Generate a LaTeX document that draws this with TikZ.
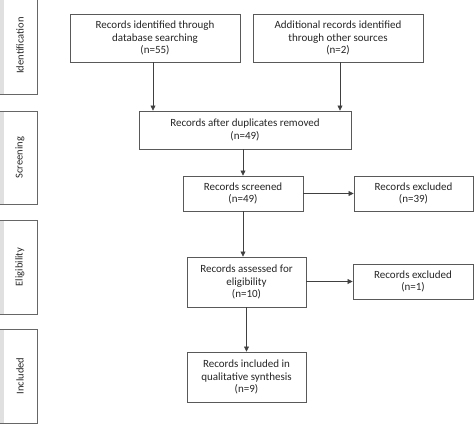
\documentclass[tikz,border=0pt]{standalone}
\usepackage{fontspec}
\setmainfont{Carlito}
\usetikzlibrary{arrows.meta}
\begin{document}
\begin{tikzpicture}[x=1pt,y=-1pt,
  box/.style={draw=black!65,line width=0.9pt,fill=white,align=center,text=black!85,font=\fontsize{11}{12.8}\selectfont,inner sep=0pt},
  side/.style={draw=black!60,line width=0.9pt,fill=white},
  sidetxt/.style={rotate=90,text=black!85,font=\fontsize{10.5}{12}\selectfont},
  arr/.style={draw=black!75,line width=0.7pt,-{Triangle[length=5pt,width=5pt]}}]
\useasboundingbox (0,0) rectangle (474,424);
% side boxes
\foreach \t/\b/\n/\lab in {-3/94/id/Identification,111/204/sc/Screening,220/314/el/Eligibility,329/423/in/Included}{
  \fill[black!12] (-3,\t) rectangle (4,\b);
  \draw[side,fill=none] (-3,\t) rectangle (37,\b);
  \node[sidetxt] (\n) at (20,{(\t+\b)/2}) {\lab};
}
% main boxes
\node[box,minimum width=170pt,minimum height=48pt] (A) at (155,38) {Records identified through\\database searching\\(n=55)};
\node[box,minimum width=170pt,minimum height=48pt] (B) at (338,38) {Additional records identified\\through other sources\\(n=2)};
\node[box,minimum width=212pt,minimum height=38pt] (C) at (245,130) {Records after duplicates removed\\(n=49)};
\node[box,minimum width=120pt,minimum height=35pt] (D) at (243,193.5) {Records screened\\(n=49)};
\node[box,minimum width=119pt,minimum height=35pt] (E) at (413.5,193.5) {Records excluded\\(n=39)};
\node[box,minimum width=119pt,minimum height=50pt] (F) at (246.5,282) {Records assessed for\\eligibility\\(n=10)};
\node[box,minimum width=120pt,minimum height=35pt] (G) at (413,281.5) {Records excluded\\(n=1)};
\node[box,minimum width=119pt,minimum height=50pt] (H) at (246.5,377) {Records included in\\qualitative synthesis\\(n=9)};
% arrows
\draw[arr] ([xshift=-2pt]A.south) -- ([xshift=-2pt]A.south |- C.north);
\draw[arr] ([xshift=2pt]B.south) -- ([xshift=2pt]B.south |- C.north);
\draw[arr] (C.south -| D.north) -- (D.north);
\draw[arr] (D.east) -- (E.west);
\draw[arr] (D.south) -- (D.south |- F.north);
\draw[arr] (F.east |- G.west) -- (G.west);
\draw[arr] (F.south) -- (H.north);
\end{tikzpicture}
\end{document}
